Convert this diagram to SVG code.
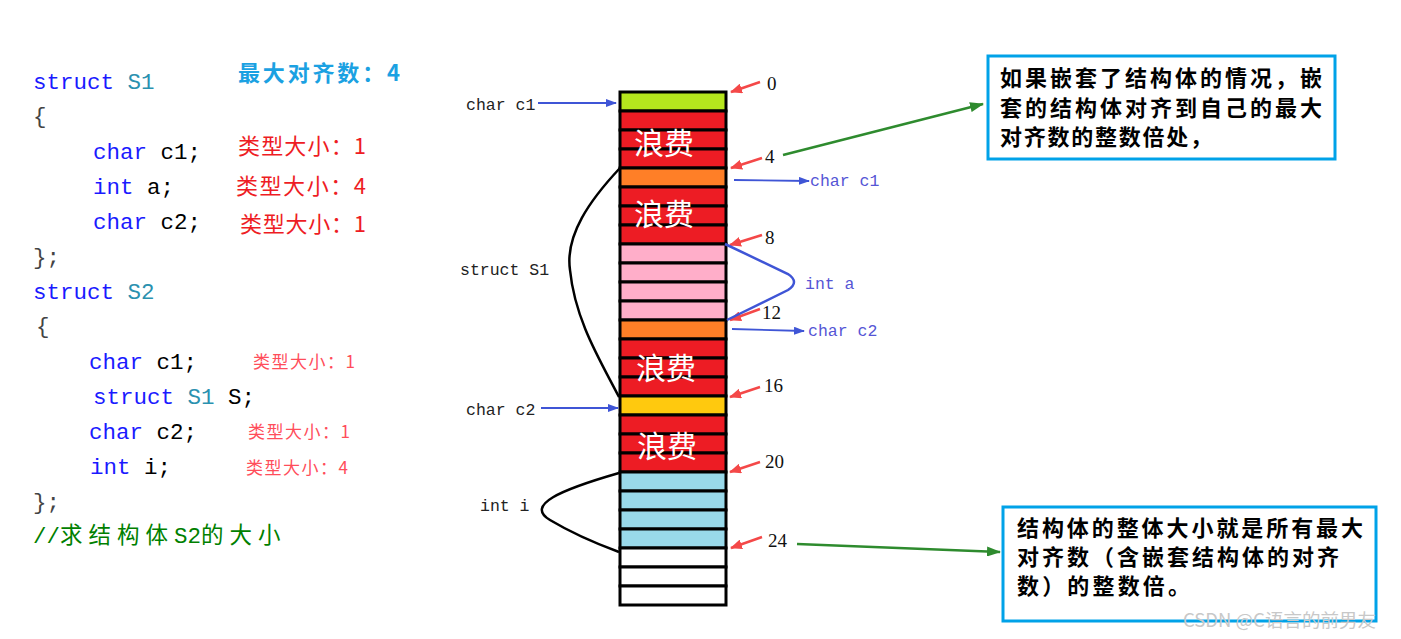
<svg xmlns="http://www.w3.org/2000/svg" width="1401" height="639" viewBox="0 0 1401 639">
<style>
.code{font-family:"Liberation Mono","Noto Sans CJK SC",monospace;font-size:22.5px;fill:#000}
.kw{fill:#1a1aff}
.ty{fill:#2b91af}
.br{fill:#444}
.cm{fill:#008000}
.cj{letter-spacing:6px}
.ann{font-family:"Noto Sans CJK SC",sans-serif;font-size:22px;fill:#ee1c24}
.ann2{font-family:"Noto Sans CJK SC",sans-serif;font-size:17px;fill:#ff4d5a;letter-spacing:1.5px}
.max{font-family:"Noto Sans CJK SC",sans-serif;font-size:22px;font-weight:bold;fill:#1ba1e2}
.row{stroke:#000;stroke-width:3}
.waste{font-family:"Noto Sans CJK SC",serif;font-size:30px;fill:#fff;text-anchor:middle}
.lbl{font-family:"Liberation Mono",monospace;font-size:16.5px;fill:#222}
.lblb{font-family:"Liberation Mono",monospace;font-size:16.5px;fill:#5555d5}
.num{font-family:"Liberation Serif",serif;font-size:19px;fill:#111}
.box{fill:#fff;stroke:#00a2e8;stroke-width:3}
.note{font-family:"Noto Sans CJK SC",sans-serif;font-size:22px;font-weight:bold;fill:#000}
.red{stroke:#f44848;stroke-width:2.5;fill:none;marker-end:url(#mr)}
.blue{stroke:#3f55d6;stroke-width:1.8;fill:none;marker-end:url(#mb)}
.green{stroke:#2e8b2e;stroke-width:2.5;fill:none;marker-end:url(#mg)}
.brk{stroke:#000;stroke-width:2.5;fill:none}
</style>
<defs>
<marker id="mr" viewBox="0 0 12 10" refX="11" refY="5" markerWidth="12" markerHeight="10" markerUnits="userSpaceOnUse" orient="auto"><path d="M0,0 L12,5 L0,10 z" fill="#f44848"/></marker>
<marker id="mb" viewBox="0 0 11 8" refX="10" refY="4" markerWidth="11" markerHeight="8" markerUnits="userSpaceOnUse" orient="auto"><path d="M0,0 L11,4 L0,8 z" fill="#3f55d6"/></marker>
<marker id="mg" viewBox="0 0 14 10" refX="13" refY="5" markerWidth="14" markerHeight="10" markerUnits="userSpaceOnUse" orient="auto"><path d="M0,0 L14,5 L0,10 z" fill="#2e8b2e"/></marker>
</defs>
<rect width="1401" height="639" fill="#fff"/>

<g id="code">
<text class="code" x="33" y="89"><tspan class="kw">struct</tspan> <tspan class="ty">S1</tspan></text>
<text class="code br" x="33" y="123">{</text>
<text class="code" x="93" y="159"><tspan class="kw">char</tspan> c1;</text>
<text class="code" x="93" y="194"><tspan class="kw">int</tspan> a;</text>
<text class="code" x="93" y="229"><tspan class="kw">char</tspan> c2;</text>
<text class="code br" x="33" y="264">};</text>
<text class="code" x="33" y="299"><tspan class="kw">struct</tspan> <tspan class="ty">S2</tspan></text>
<text class="code br" x="36" y="333">{</text>
<text class="code" x="89" y="369"><tspan class="kw">char</tspan> c1;</text>
<text class="code" x="93" y="404"><tspan class="kw">struct</tspan> <tspan class="ty">S1</tspan> S;</text>
<text class="code" x="89" y="439"><tspan class="kw">char</tspan> c2;</text>
<text class="code" x="90" y="474"><tspan class="kw">int</tspan> i;</text>
<text class="code br" x="33" y="509">};</text>
<text class="code cm" x="33" y="543">//<tspan class="cj">求结构体</tspan>S2<tspan class="cj">的大小</tspan></text>
</g>

<g id="annotations">
<text class="max" x="238" y="81" textLength="162" lengthAdjust="spacing">最大对齐数：4</text>
<text class="ann" x="238" y="154" textLength="128" lengthAdjust="spacing">类型大小：1</text>
<text class="ann" x="236" y="194" textLength="130" lengthAdjust="spacing">类型大小：4</text>
<text class="ann" x="240" y="232" textLength="126" lengthAdjust="spacing">类型大小：1</text>
<text class="ann2" x="253" y="368">类型大小：1</text>
<text class="ann2" x="248" y="438">类型大小：1</text>
<text class="ann2" x="246" y="474">类型大小：4</text>
</g>

<g id="memory">
<rect class="row" x="620" y="92" width="106" height="19" fill="#b5e61d"/>
<rect class="row" x="620" y="111" width="106" height="19" fill="#ed1c24"/>
<rect class="row" x="620" y="130" width="106" height="19" fill="#ed1c24"/>
<rect class="row" x="620" y="149" width="106" height="19" fill="#ed1c24"/>
<rect class="row" x="620" y="168" width="106" height="19" fill="#ff7f27"/>
<rect class="row" x="620" y="187" width="106" height="19" fill="#ed1c24"/>
<rect class="row" x="620" y="206" width="106" height="19" fill="#ed1c24"/>
<rect class="row" x="620" y="225" width="106" height="19" fill="#ed1c24"/>
<rect class="row" x="620" y="244" width="106" height="19" fill="#ffaec9"/>
<rect class="row" x="620" y="263" width="106" height="19" fill="#ffaec9"/>
<rect class="row" x="620" y="282" width="106" height="19" fill="#ffaec9"/>
<rect class="row" x="620" y="301" width="106" height="19" fill="#ffaec9"/>
<rect class="row" x="620" y="320" width="106" height="19" fill="#ff7f27"/>
<rect class="row" x="620" y="339" width="106" height="19" fill="#ed1c24"/>
<rect class="row" x="620" y="358" width="106" height="19" fill="#ed1c24"/>
<rect class="row" x="620" y="377" width="106" height="19" fill="#ed1c24"/>
<rect class="row" x="620" y="396" width="106" height="19" fill="#ffc90e"/>
<rect class="row" x="620" y="415" width="106" height="19" fill="#ed1c24"/>
<rect class="row" x="620" y="434" width="106" height="19" fill="#ed1c24"/>
<rect class="row" x="620" y="453" width="106" height="19" fill="#ed1c24"/>
<rect class="row" x="620" y="472" width="106" height="19" fill="#99d9ea"/>
<rect class="row" x="620" y="491" width="106" height="19" fill="#99d9ea"/>
<rect class="row" x="620" y="510" width="106" height="19" fill="#99d9ea"/>
<rect class="row" x="620" y="529" width="106" height="19" fill="#99d9ea"/>
<rect class="row" x="620" y="548" width="106" height="19" fill="#fff"/>
<rect class="row" x="620" y="567" width="106" height="19" fill="#fff"/>
<rect class="row" x="620" y="586" width="106" height="19" fill="#fff"/>
<text class="waste" x="664" y="154">浪费</text>
<text class="waste" x="664" y="225">浪费</text>
<text class="waste" x="666" y="379">浪费</text>
<text class="waste" x="667" y="457">浪费</text>
</g>

<g id="offsets">
<text class="num" x="767" y="90">0</text>
<text class="num" x="765" y="163">4</text>
<text class="num" x="765" y="244">8</text>
<text class="num" x="762" y="319">12</text>
<text class="num" x="764" y="392">16</text>
<text class="num" x="765" y="468">20</text>
<text class="num" x="768" y="547">24</text>
</g>

<g id="labels">
<text class="lbl" x="466" y="110">char c1</text>
<text class="lbl" x="460" y="275">struct S1</text>
<text class="lbl" x="466" y="415">char c2</text>
<text class="lbl" x="480" y="511">int i</text>
<text class="lblb" x="810" y="186">char c1</text>
<text class="lblb" x="805" y="289">int a</text>
<text class="lblb" x="808" y="336">char c2</text>
</g>

<g id="box-nested">
<rect class="box" x="988" y="56" width="347" height="103"/>
<text class="note" x="1000" y="86" textLength="322" lengthAdjust="spacing">如果嵌套了结构体的情况，嵌</text>
<text class="note" x="1000" y="116" textLength="322" lengthAdjust="spacing">套的结构体对齐到自己的最大</text>
<text class="note" x="1000" y="145" textLength="212" lengthAdjust="spacing">对齐数的整数倍处，</text>
</g>

<g id="box-total">
<rect class="box" x="1003" y="507" width="373" height="114"/>
<text class="note" x="1017" y="536" textLength="346" lengthAdjust="spacing">结构体的整体大小就是所有最大</text>
<text class="note" x="1017" y="565" textLength="322" lengthAdjust="spacing">对齐数（含嵌套结构体的对齐</text>
<text class="note" x="1017" y="594" textLength="173" lengthAdjust="spacing">数）的整数倍。</text>
</g>

<g id="connectors">
<path class="red" d="M760,82 L731,92"/>
<path class="red" d="M762,158 L731,168"/>
<path class="red" d="M762,235 L730,245"/>
<path class="red" d="M760,309 L730,320"/>
<path class="red" d="M760,387 L730,397"/>
<path class="red" d="M760,462 L730,472"/>
<path class="red" d="M762,537 L731,548"/>
<path class="blue" d="M538,103 L616,103"/>
<path class="blue" d="M541,408 L618,408"/>
<path class="blue" d="M734,180 L809,181"/>
<path class="blue" d="M732,329 L804,331"/>
<path d="M725,244 L788,274 Q800,282 788,290 L727,320" stroke="#3f55d6" stroke-width="2.5" fill="none"/>
<path class="brk" d="M620,168 C590,200 565,235 570,270 C575,320 600,360 619,397"/>
<path class="brk" d="M619,473 C560,490 525,505 550,520 C570,532 600,545 619,552"/>
<path class="green" d="M783,155 L983,104"/>
<path class="green" d="M797,544 L1000,552"/>
</g>

<text x="1183" y="627" font-family="Noto Sans CJK SC,sans-serif" font-size="18.5" fill="#c8c8c8">CSDN @C语言的前男友</text>
</svg>
